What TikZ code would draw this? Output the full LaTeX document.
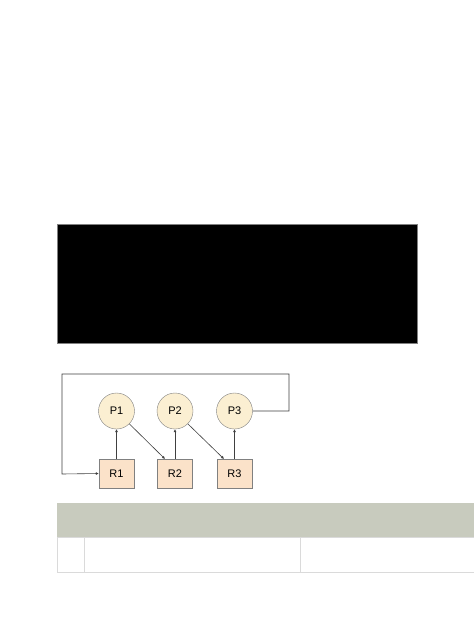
\documentclass[tikz,border=0pt]{standalone}
\usepackage{fontspec}
\setmainfont{Liberation Sans}
\usetikzlibrary{arrows.meta}
\definecolor{pfill}{HTML}{FBEFD2}
\definecolor{rfill}{HTML}{FBE2C9}
\definecolor{edge}{HTML}{808080}
\definecolor{hdr}{HTML}{C8CBBE}
\definecolor{grid}{HTML}{DADADA}
\begin{document}
\begin{tikzpicture}[x=1pt,y=-1pt,
  proc/.style={circle,draw=edge,fill=pfill,minimum size=36pt,inner sep=0pt,font=\fontsize{11}{13}\selectfont},
  res/.style={rectangle,draw=edge,fill=rfill,minimum width=35pt,minimum height=29pt,inner sep=0pt,font=\fontsize{11}{13}\selectfont},
  conn/.style={draw=black!75,line width=0.6pt,-{Latex[length=3pt,width=3pt]}}]
\useasboundingbox (0,0) rectangle (474,632);
\fill[white] (0,0) rectangle (474,632);
% black block
\fill[black] (57,224) rectangle (417,343);
\draw[edge,line width=0.5pt] (57,224) rectangle (417,343);
% nodes
\node[proc] (P1) at (116.5,411) {P1};
\node[proc] (P2) at (175,411) {P2};
\node[proc] (P3) at (234.5,411) {P3};
\node[res] (R1) at (116.5,473.5) {R1};
\node[res] (R2) at (175,473.5) {R2};
\node[res] (R3) at (234.5,473.5) {R3};
\coordinate (c1) at (289,411);
\coordinate (c2) at (289,374);
\coordinate (c3) at (62,374);
\coordinate (c4) at (62,474);
\coordinate (t2) at (165,459);
\coordinate (t3) at (224,459);
% connectors
\draw[conn] (R1.north) -- (P1.south);
\draw[conn] (R2.north) -- (P2.south);
\draw[conn] (R3.north) -- (P3.south);
\draw[conn] (P1.-45) -- (t2);
\draw[conn] (P2.-45) -- (t3);
\draw[conn] (P3.east) -- (c1) -- (c2) -- (c3) -- (c4) -- (R1.west);
% table
\fill[hdr] (57,503) rectangle (474,537);
\draw[grid,line width=0.6pt] (57,537) -- (474,537);
\draw[grid,line width=0.6pt] (57,572) -- (474,572);
\draw[grid,line width=0.6pt] (57,537) -- (57,572);
\draw[grid,line width=0.6pt] (84,537) -- (84,572);
\draw[grid,line width=0.6pt] (300,537) -- (300,572);
\end{tikzpicture}
\end{document}
